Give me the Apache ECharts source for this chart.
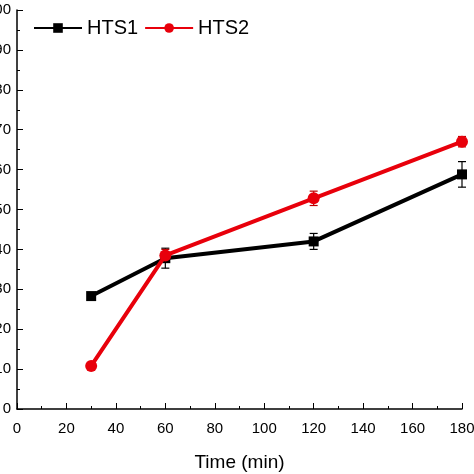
<!DOCTYPE html>
<html>
<head>
<meta charset="UTF-8">
<script src="https://cdn.jsdelivr.net/npm/echarts@6/dist/echarts.min.js"></script>
<style>html,body{margin:0;background:#fff}#main{width:474px;height:474px}</style>
</head>
<body>
<div id="main"></div>
<script>
var times = [30, 60, 120, 180];
var hts1 = [28.3, 37.8, 42.0, 58.8];
var hts1Err = [0.8, 2.5, 2.0, 3.2];
var hts2 = [10.8, 38.5, 52.8, 67.0];
var hts2Err = [0.6, 1.5, 1.8, 1.3];

function pairs(v) { return times.map(function (t, i) { return [t, v[i]]; }); }
function errData(v, e) { return times.map(function (t, i) { return [t, v[i] - e[i], v[i] + e[i]]; }); }
function errSeries(v, e, color) {
    return {
        type: 'custom', silent: true, z: 1,
        data: errData(v, e),
        renderItem: function (params, api) {
            var lo = api.coord([api.value(0), api.value(1)]);
            var hi = api.coord([api.value(0), api.value(2)]);
            var w = 4, st = { stroke: color, lineWidth: 1.2 };
            return { type: 'group', children: [
                { type: 'line', shape: { x1: lo[0], y1: lo[1], x2: hi[0], y2: hi[1] }, style: st },
                { type: 'line', shape: { x1: lo[0] - w, y1: lo[1], x2: lo[0] + w, y2: lo[1] }, style: st },
                { type: 'line', shape: { x1: hi[0] - w, y1: hi[1], x2: hi[0] + w, y2: hi[1] }, style: st }
            ] };
        }
    };
}

var chart = echarts.init(document.getElementById('main'));
chart.setOption({
    animation: false,
    grid: { left: 17, right: 12, top: 10, bottom: 65, containLabel: false, outerBoundsMode: 'none' },
    legend: {
        left: 28, top: 13, itemWidth: 48, itemHeight: 12, itemGap: 6,
        textStyle: { fontFamily: 'Liberation Sans', fontSize: 20, color: '#000' },
        data: ['HTS1', 'HTS2']
    },
    xAxis: {
        type: 'value', min: 0, max: 180, interval: 20,
        name: 'Time (min)', nameLocation: 'middle', nameGap: 44,
        nameTextStyle: { fontFamily: 'Liberation Sans', fontSize: 19, color: '#000' },
        axisLine: { lineStyle: { color: '#000', width: 1.5 } },
        axisTick: { inside: true, length: 6, lineStyle: { color: '#000' } },
        minorTick: { show: true, splitNumber: 2, length: 3, lineStyle: { color: '#000' } },
        axisLabel: { fontFamily: 'Liberation Sans', fontSize: 15, color: '#000', margin: 12 },
        splitLine: { show: false }
    },
    yAxis: {
        type: 'value', min: 0, max: 100, interval: 10,
        axisLine: { show: true, lineStyle: { color: '#000', width: 1.5 } },
        axisTick: { show: true, inside: true, length: 6, lineStyle: { color: '#000' } },
        minorTick: { show: true, splitNumber: 2, length: 3, lineStyle: { color: '#000' } },
        axisLabel: { fontFamily: 'Liberation Sans', fontSize: 15, color: '#000', margin: 6 },
        splitLine: { show: false }
    },
    series: [
        errSeries(hts1, hts1Err, '#000'),
        errSeries(hts2, hts2Err, '#b00'),
        { name: 'HTS1', type: 'line', data: pairs(hts1), symbol: 'rect', symbolSize: 10,
          lineStyle: { color: '#000', width: 4 }, itemStyle: { color: '#000' }, z: 3 },
        { name: 'HTS2', type: 'line', data: pairs(hts2), symbol: 'circle', symbolSize: 12,
          lineStyle: { color: '#e8000b', width: 4 }, itemStyle: { color: '#e8000b' }, z: 4 }
    ]
});
</script>
</body>
</html>
